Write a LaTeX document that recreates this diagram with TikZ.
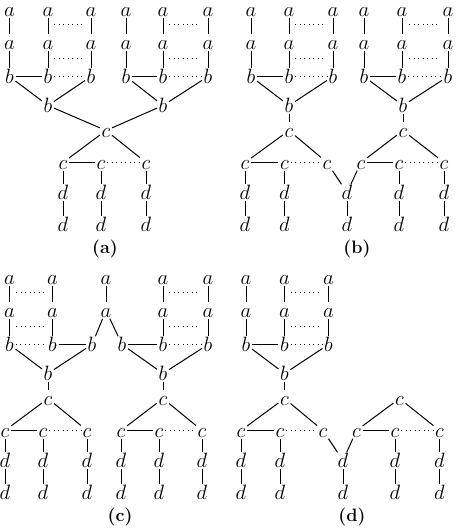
\documentclass[tikz,border=0pt]{standalone}
\usetikzlibrary{calc}
\tikzset{
  v/.style={anchor=base, inner sep=1.5pt, text height=13pt, text depth=0pt, font=\fontsize{20.74}{24}\usefont{OML}{cmm}{m}{it}},
  e/.style={line width=1pt},
  dl/.style={line width=0.9pt, dash pattern=on 0.9pt off 3.6pt},
  lab/.style={anchor=base, inner sep=0pt, font=\fontsize{18}{20}\selectfont\bfseries}
}
\begin{document}
\begin{tikzpicture}[x=1pt,y=-1pt]
\useasboundingbox (0,0) rectangle (474,531);

% ---------------- panel (a) ----------------
\foreach \n/\x in {1/9.5,2/48,3/91,4/126,5/163,6/208} {
  \node[v] (aA\n) at (\x,16) {a};
  \node[v] (aB\n) at (\x,49) {a};
  \node[v] (aC\n) at (\x,83) {b};
  \draw[e] (aA\n) -- (aB\n);
  \draw[e] (aB\n) -- (aC\n);
}
\node[v] (aD1) at (48,112) {b};
\node[v] (aD2) at (163,112) {b};
\node[v] (aE) at (106,137) {c};
\foreach \n/\x in {1/63,2/101,3/146} {
  \node[v] (aF\n) at (\x,169) {c};
  \node[v] (aG\n) at (\x,199) {d};
  \node[v] (aH\n) at (\x,231) {d};
  \draw[e] (aF\n) -- (aG\n);
  \draw[e] (aG\n) -- (aH\n);
}
\draw[e] (aC1) -- (aC2);
\draw[dl] (aC2) -- (aC3);
\draw[e] (aC4) -- (aC5);
\draw[dl] (aC5) -- (aC6);
\draw[e] (aC1) -- (aD1);
\draw[e] (aC3) -- (aD1);
\draw[e] (aC4) -- (aD2);
\draw[e] (aC6) -- (aD2);
\draw[e] (aD1) -- (aE);
\draw[e] (aD2) -- (aE);
\draw[e] (aE) -- (aF1);
\draw[e] (aE) -- (aF3);
\draw[e] (aF1) -- (aF2);
\draw[dl] (aF2) -- (aF3);
\draw[dl] (54,24) -- (84,24);
\draw[dl] (54,58) -- (84,58);
\draw[dl] (169,24) -- (200,24);
\draw[dl] (169,58) -- (200,58);
\node[lab] (la) at (105,253) {(a)};

% ---------------- panel (b) ----------------
\foreach \n/\x in {1/251,2/289,3/333,4/364,5/402,6/448} {
  \node[v] (bA\n) at (\x,16) {a};
  \node[v] (bB\n) at (\x,49) {a};
  \node[v] (bC\n) at (\x,83) {b};
  \draw[e] (bA\n) -- (bB\n);
  \draw[e] (bB\n) -- (bC\n);
}
\node[v] (bD1) at (289,112) {b};
\node[v] (bD2) at (403,112) {b};
\node[v] (bE1) at (289,137) {c};
\node[v] (bE2) at (403,137) {c};
\foreach \n/\x in {1/245,2/284.5,3/327,4/361,5/399,6/444} {
  \node[v] (bF\n) at (\x,169) {c};
}
\foreach \n/\x in {1/245,2/284.5,3/347,4/399,5/444} {
  \node[v] (bG\n) at (\x,199) {d};
  \node[v] (bH\n) at (\x,231) {d};
  \draw[e] (bG\n) -- (bH\n);
}
\draw[e] (bC1) -- (bC2);
\draw[dl] (bC2) -- (bC3);
\draw[e] (bC4) -- (bC5);
\draw[dl] (bC5) -- (bC6);
\draw[e] (bC1) -- (bD1);
\draw[e] (bC3) -- (bD1);
\draw[e] (bC4) -- (bD2);
\draw[e] (bC6) -- (bD2);
\draw[e] (bD1) -- (bE1);
\draw[e] (bD2) -- (bE2);
\draw[e] (bE1) -- (bF1);
\draw[e] (bE1) -- (bF3);
\draw[e] (bE2) -- (bF4);
\draw[e] (bE2) -- (bF6);
\draw[e] (bF1) -- (bF2);
\draw[dl] (bF2) -- (bF3);
\draw[e] (bF4) -- (bF5);
\draw[dl] (bF5) -- (bF6);
\draw[e] (bF1) -- (bG1);
\draw[e] (bF2) -- (bG2);
\draw[e] (bF3) -- (bG3);
\draw[e] (bF4) -- (bG3);
\draw[e] (bF5) -- (bG4);
\draw[e] (bF6) -- (bG5);
\draw[dl] (295,24) -- (326,24);
\draw[dl] (295,58) -- (326,58);
\draw[dl] (409,24) -- (440,24);
\draw[dl] (409,58) -- (440,58);
\node[lab] (lb) at (357,253) {(b)};

% ---------------- panel (c) ----------------
\foreach \n/\x in {1/9.5,2/52.5,3/106,4/163,5/208} {
  \node[v] (cA\n) at (\x,284) {a};
  \node[v] (cB\n) at (\x,317) {a};
  \draw[e] (cA\n) -- (cB\n);
}
\foreach \n/\x in {1/9.5,2/52.5,3/92,4/122,5/163,6/208} {
  \node[v] (cC\n) at (\x,351) {b};
}
\draw[e] (cB1) -- (cC1);
\draw[e] (cB2) -- (cC2);
\draw[e] (cB3) -- (cC3);
\draw[e] (cB3) -- (cC4);
\draw[e] (cB4) -- (cC5);
\draw[e] (cB5) -- (cC6);
\draw[dl] (cC1) -- (cC2);
\draw[e] (cC2) -- (cC3);
\draw[e] (cC4) -- (cC5);
\draw[dl] (cC5) -- (cC6);
\node[v] (cD1) at (48,380) {b};
\node[v] (cD2) at (163,380) {b};
\node[v] (cE1) at (48,405) {c};
\node[v] (cE2) at (163,405) {c};
\draw[e] (cC1) -- (cD1);
\draw[e] (cC3) -- (cD1);
\draw[e] (cC4) -- (cD2);
\draw[e] (cC6) -- (cD2);
\draw[e] (cD1) -- (cE1);
\draw[e] (cD2) -- (cE2);
\foreach \n/\x in {1/5,2/43,3/87,4/121,5/159,6/202} {
  \node[v] (cF\n) at (\x,437) {c};
  \node[v] (cG\n) at (\x,467) {d};
  \node[v] (cH\n) at (\x,499) {d};
  \draw[e] (cF\n) -- (cG\n);
  \draw[e] (cG\n) -- (cH\n);
}
\draw[e] (cE1) -- (cF1);
\draw[e] (cE1) -- (cF3);
\draw[e] (cE2) -- (cF4);
\draw[e] (cE2) -- (cF6);
\draw[e] (cF1) -- (cF2);
\draw[dl] (cF2) -- (cF3);
\draw[e] (cF4) -- (cF5);
\draw[dl] (cF5) -- (cF6);
\draw[dl] (16,292) -- (46,292);
\draw[dl] (16,326) -- (46,326);
\draw[dl] (169,292) -- (200,292);
\draw[dl] (169,326) -- (200,326);
\node[lab] (lc) at (120,521) {(c)};

% ---------------- panel (d) ----------------
\foreach \n/\x in {1/246,2/284.5,3/328.5} {
  \node[v] (dA\n) at (\x,284) {a};
  \node[v] (dB\n) at (\x,317) {a};
  \node[v] (dC\n) at (\x,351) {b};
  \draw[e] (dA\n) -- (dB\n);
  \draw[e] (dB\n) -- (dC\n);
}
\draw[e] (dC1) -- (dC2);
\draw[dl] (dC2) -- (dC3);
\node[v] (dD) at (284.5,380) {b};
\node[v] (dE1) at (284.5,405) {c};
\node[v] (dE2) at (399.5,405) {c};
\draw[e] (dC1) -- (dD);
\draw[e] (dC3) -- (dD);
\draw[e] (dD) -- (dE1);
\foreach \n/\x in {1/241,2/280,3/323,4/356.5,5/395,6/439.5} {
  \node[v] (dF\n) at (\x,437) {c};
}
\foreach \n/\x in {1/241,2/280,3/343,4/395,5/439.5} {
  \node[v] (dG\n) at (\x,467) {d};
  \node[v] (dH\n) at (\x,499) {d};
  \draw[e] (dG\n) -- (dH\n);
}
\draw[e] (dE1) -- (dF1);
\draw[e] (dE1) -- (dF3);
\draw[e] (dE2) -- (dF4);
\draw[e] (dE2) -- (dF6);
\draw[e] (dF1) -- (dF2);
\draw[dl] (dF2) -- (dF3);
\draw[e] (dF4) -- (dF5);
\draw[dl] (dF5) -- (dF6);
\draw[e] (dF1) -- (dG1);
\draw[e] (dF2) -- (dG2);
\draw[e] (dF3) -- (dG3);
\draw[e] (dF4) -- (dG3);
\draw[e] (dF5) -- (dG4);
\draw[e] (dF6) -- (dG5);
\draw[dl] (290.5,292) -- (321.5,292);
\draw[dl] (290.5,326) -- (321.5,326);
\node[lab] (ld) at (352,521) {(d)};
\end{tikzpicture}
\end{document}
